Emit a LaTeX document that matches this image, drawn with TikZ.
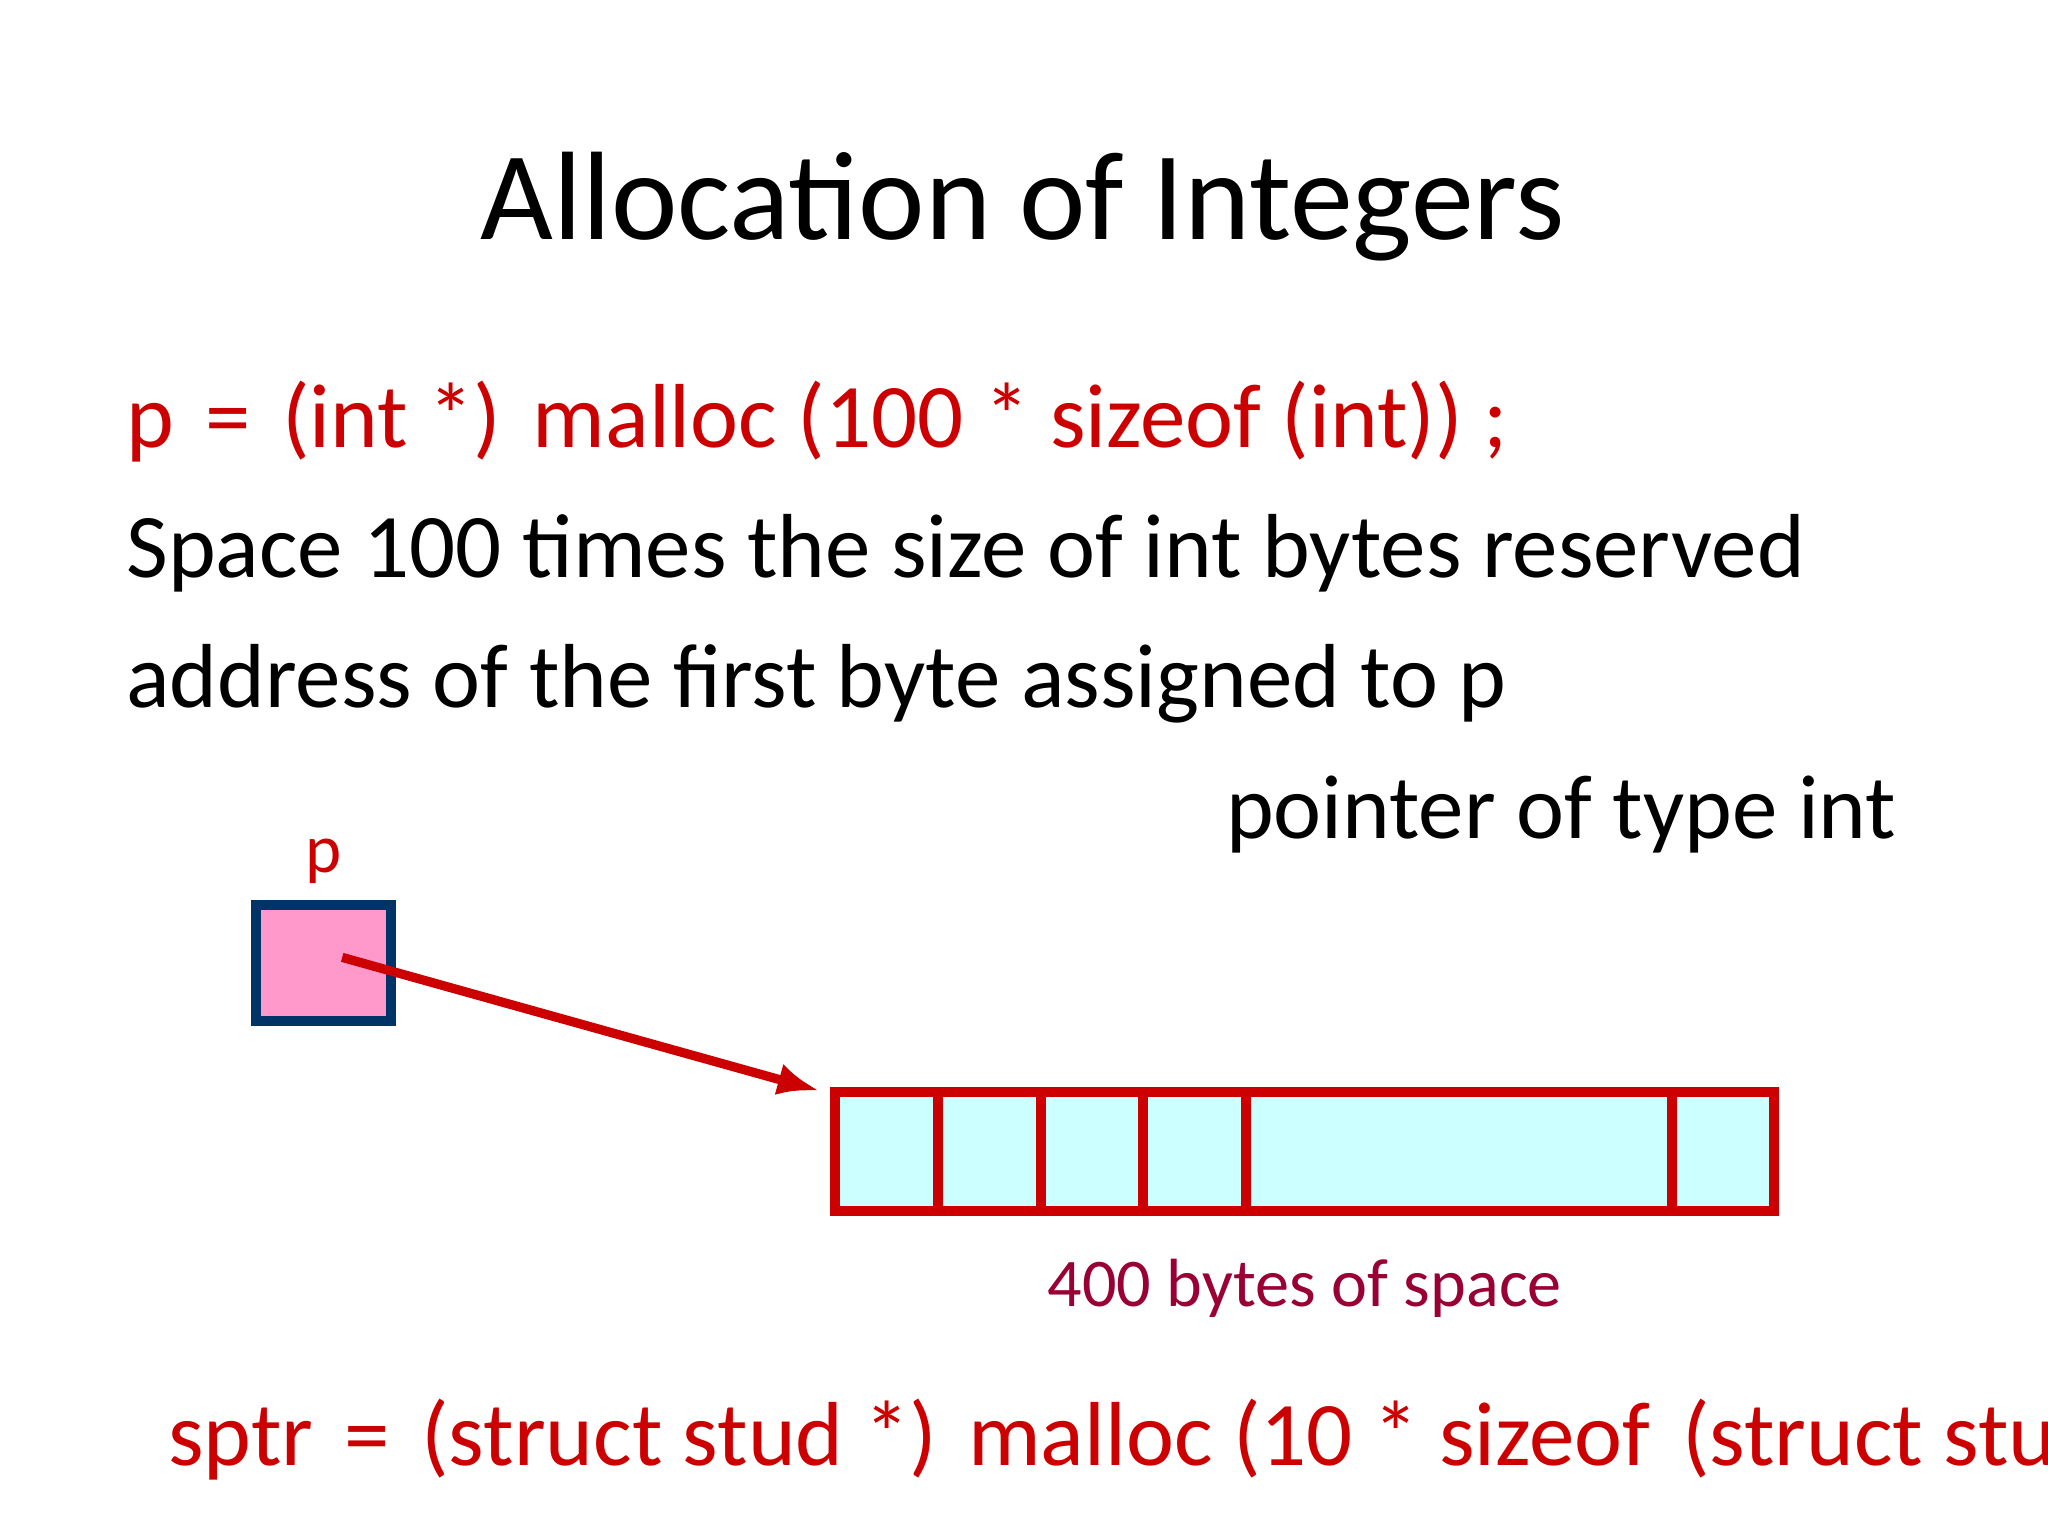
\documentclass[tikz,border=0pt]{standalone}
\usepackage{fontspec}
\usetikzlibrary{arrows.meta}
\setmainfont{Carlito}
\definecolor{cred}{HTML}{CC0000}
\definecolor{dred}{HTML}{990033}
\definecolor{pinkf}{HTML}{FF99CC}
\definecolor{navy}{HTML}{003366}
\definecolor{cyanf}{HTML}{CCFFFF}
\newcommand{\xs}{\hspace{0.12em}}
\begin{document}
\begin{tikzpicture}[x=0.01cm,y=-0.01cm,
  txt/.style={anchor=base west,inner sep=0,font=\fontsize{19.8}{24}\selectfont}]
\useasboundingbox (0,0) rectangle (1568,1176);
\node[anchor=base,inner sep=0,font=\fontsize{27.4}{32}\selectfont] (title) at (783,183) {Allocation of Integers};
\node[txt,text=cred] (l1) at (96,343) {p\xs{} =\xs{} (int *)\xs{} malloc (100 * sizeof (int)) ;};
\node[txt] (l2) at (96,442) {Space 100 times the size of int bytes reserved};
\node[txt] (l3) at (96,542) {address of the first byte assigned to p};
\node[txt] (l4) at (938,642) {pointer of type int};
\node[anchor=base,inner sep=0,text=cred,font=\fontsize{15}{18}\selectfont] (plab) at (248,668) {p};
\node[draw=navy,line width=2.2pt,fill=pinkf,minimum width=1.03cm,minimum height=0.89cm,inner sep=0] (pbox) at (247.5,737.5) {};
\coordinate (ps) at (262,733);
\draw[fill=cyanf,draw=cred,line width=2.2pt] (639,836) rectangle (1358,927);
\foreach \x in {718,797,875,954,1280} \draw[cred,line width=2.2pt] (\x,836) -- (\x,927);
\coordinate (arr) at (627,835);
\draw[cred,line width=2pt,-{Latex[length=9pt,width=7pt]}] (ps) -- (arr);
\node[anchor=base,inner sep=0,text=dred,font=\fontsize{14.85}{18}\selectfont] (bytes) at (999,1000) {400 bytes of space};
\node[txt,text=cred] (l5) at (128,1122) {sptr\xs{} =\xs{} (struct stud *)\xs{} malloc (10 * sizeof\xs{} (struct stud));};
\end{tikzpicture}
\end{document}
